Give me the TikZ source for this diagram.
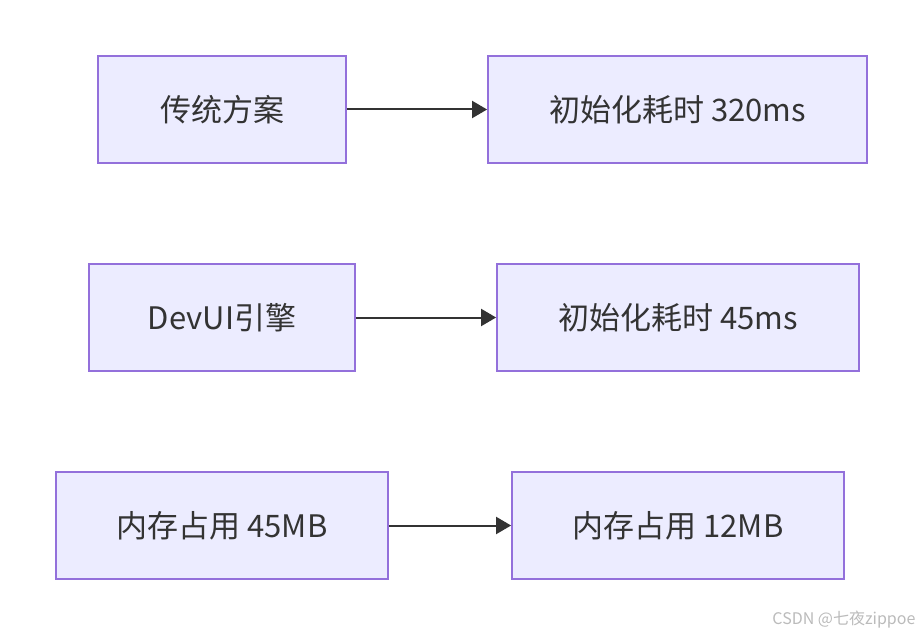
\documentclass[tikz,border=0pt]{standalone}
\usepackage{fontspec}
\setmainfont{Noto Sans CJK SC}
\usetikzlibrary{arrows.meta}
\definecolor{boxfill}{HTML}{ECECFF}
\definecolor{boxline}{HTML}{9370DB}
\definecolor{ink}{HTML}{333333}
\definecolor{wm}{HTML}{BBBBBB}
\begin{document}
\begin{tikzpicture}[x=1pt,y=-1pt,
  box/.style={draw=boxline,fill=boxfill,line width=1.8pt,text=ink,font=\fontsize{31}{36}\selectfont},
  conn/.style={draw=ink,line width=2pt,-{Triangle[length=15pt,width=17pt]}}]
\useasboundingbox[fill=white] (0,0) rectangle (923,636);
\node[box,minimum width=248pt,minimum height=107pt] (a1) at (222,109.5) {传统方案};
\node[box,minimum width=379pt,minimum height=107pt] (b1) at (677.5,109.5) {初始化耗时 320ms};
\node[box,minimum width=266pt,minimum height=107pt] (a2) at (222,317.5) {DevUI引擎};
\node[box,minimum width=362pt,minimum height=107pt] (b2) at (678,317.5) {初始化耗时 45ms};
\node[box,minimum width=332pt,minimum height=107pt] (a3) at (222,525.5) {内存占用 45MB};
\node[box,minimum width=332pt,minimum height=107pt] (b3) at (678,525.5) {内存占用 12MB};
\draw[conn] (a1) -- (b1);
\draw[conn] (a2) -- (b2);
\draw[conn] (a3) -- (b3);
\node[text=wm,font=\fontsize{16}{18}\selectfont,anchor=east] (wm) at (919,620) {CSDN @七夜zippoe};
\end{tikzpicture}
\end{document}
